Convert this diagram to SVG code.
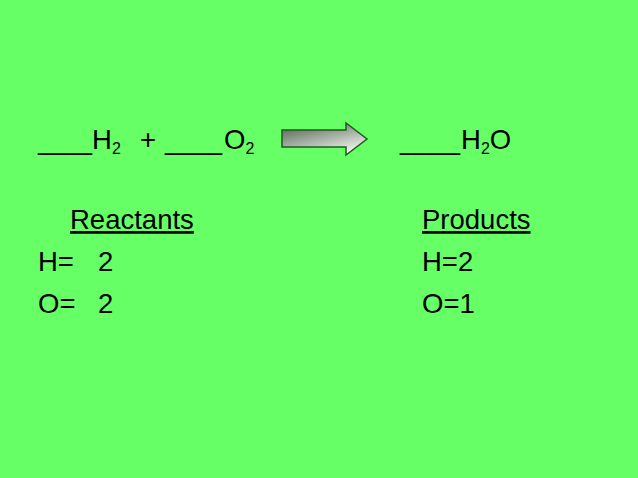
<svg xmlns="http://www.w3.org/2000/svg" width="638" height="478" viewBox="0 0 638 478">
<defs><linearGradient id="g" x1="0" y1="0" x2="0.6" y2="1"><stop offset="0" stop-color="#4a5a4a"/><stop offset="1" stop-color="#eef2ea"/></linearGradient></defs>
<style>text{font-family:"Liberation Sans",Arial,sans-serif;font-size:27.5px;fill:#000}.s{font-size:16px}</style>
<rect width="638" height="478" fill="#66ff66"/>
<g id="equation">
<text x="38" y="149" textLength="54" lengthAdjust="spacingAndGlyphs">____</text>
<text x="92" y="149">H<tspan class="s" dy="5">2</tspan></text>
<text x="140" y="149">+</text>
<text x="165" y="149" textLength="57" lengthAdjust="spacingAndGlyphs">____</text>
<text x="224" y="149">O<tspan class="s" dy="5">2</tspan></text>
<text x="400" y="149" textLength="60" lengthAdjust="spacingAndGlyphs">____</text>
<text x="461" y="149">H<tspan class="s" dy="5">2</tspan><tspan dy="-5">O</tspan></text>
</g>
<g id="arrow"><path d="M282,130 H346 V123 L367,139 L346,155 V147 H282 Z" fill="url(#g)" stroke="#1f5a1f" stroke-width="1.5"/></g>
<g id="reactants">
<text x="70" y="229" text-decoration="underline">Reactants</text>
<text x="38" y="271">H=</text><text x="98" y="271">2</text>
<text x="38" y="313">O=</text><text x="98" y="313">2</text>
</g>
<g id="products">
<text x="422" y="229" text-decoration="underline">Products</text>
<text x="422" y="271">H=2</text>
<text x="422" y="313">O=1</text>
</g>
</svg>
